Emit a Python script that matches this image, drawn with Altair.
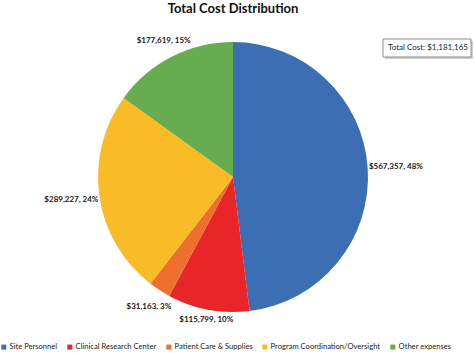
import altair as alt
import pandas as pd

categories = ["Site Personnel", "Clinical Research Center", "Patient Care & Supplies",
              "Program Coordination/Oversight", "Other expenses"]
values = [567357, 115799, 31163, 289227, 177619]
colors = ["#3C6EB4", "#E8262A", "#EF6F2E", "#F9BC27", "#66AD52"]
title_text = "Total Cost Distribution"
total_text = f"Total Cost: ${sum(values):,}"

df = pd.DataFrame({"category": categories, "value": values, "idx": list(range(len(values)))})

CX, CY, R = 233, 177, 135
FONT = "Lato"

base = alt.Chart(df)

arcs = base.mark_arc(outerRadius=R).encode(
    theta=alt.Theta("value:Q", stack=True),
    order=alt.Order("idx:Q"),
    color=alt.Color(
        "category:N",
        scale=alt.Scale(domain=categories, range=colors),
        sort=categories,
        legend=alt.Legend(
            orient="none", legendX=0, legendY=343, direction="horizontal", columns=5,
            title=None, symbolType="square", symbolSize=25, symbolStrokeWidth=0,
            labelFont=FONT, labelFontSize=7.6, labelColor="#222222",
            columnPadding=8, labelOffset=2, padding=0,
        ),
    ),
    x=alt.value(CX),
    y=alt.value(CY),
)

labels = base.transform_window(
    cum="sum(value)", sort=[alt.SortField("idx")]
).transform_joinaggregate(
    total="sum(value)"
).transform_calculate(
    mid="2*PI*(datum.cum - datum.value/2)/datum.total",
    r=f"{R + 2} + 26*abs(sin(datum.mid)) + 4*abs(cos(datum.mid))",
    label="'$' + format(datum.value, ',') + ', ' + format(datum.value/datum.total, '.0%')",
).mark_text(font=FONT, fontSize=8, fontWeight="bold", color="#1a1a1a",
            align="center", baseline="middle").encode(
    theta=alt.Theta("mid:Q", scale=None),
    radius=alt.Radius("r:Q", scale=None),
    text="label:N",
    x=alt.value(CX),
    y=alt.value(CY),
)

title = alt.Chart(pd.DataFrame({"t": [title_text]})).mark_text(
    font=FONT, fontSize=13, fontWeight="bold", color="#111111", align="center", baseline="middle"
).encode(text="t:N", x=alt.value(CX), y=alt.value(9))

shadow = alt.Chart(pd.DataFrame({"t": [total_text]})).mark_rect(
    fill="#d0d0d0"
).encode(x=alt.value(385), x2=alt.value(473), y=alt.value(41), y2=alt.value(59))

box = alt.Chart(pd.DataFrame({"t": [total_text]})).mark_rect(
    fill="white", stroke="#8c8c8c", strokeWidth=1
).encode(x=alt.value(383), x2=alt.value(471), y=alt.value(39), y2=alt.value(57))

box_text = alt.Chart(pd.DataFrame({"t": [total_text]})).mark_text(
    font=FONT, fontSize=8, color="#222222", align="left", baseline="middle"
).encode(text="t:N", x=alt.value(388), y=alt.value(48))

chart = alt.layer(arcs, labels, title, shadow, box, box_text).properties(
    width=474, height=353,
    autosize=alt.AutoSizeParams(type="none"),
    padding=0,
).configure_view(stroke=None)

chart.save("out.html", embed_options={"renderer": "svg", "actions": False})
